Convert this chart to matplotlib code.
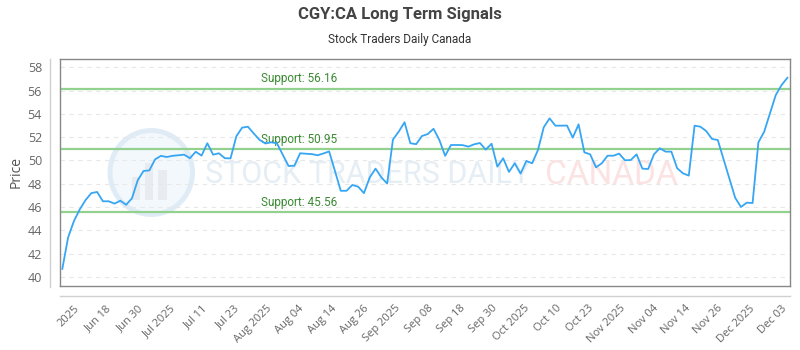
import matplotlib
matplotlib.use("Agg")
import matplotlib.pyplot as plt
import matplotlib.transforms as mtransforms
from matplotlib.patches import Ellipse, Rectangle
from matplotlib.lines import Line2D
import numpy as np

# ---- data ----
prices = [40.7, 43.4, 44.8, 45.8, 46.6, 47.2, 47.3, 46.5, 46.5, 46.3,
          46.55, 46.2, 46.75, 48.3, 49.1, 49.15, 50.1, 50.4, 50.3, 50.4,
          50.45, 50.5, 50.2, 50.75, 50.42, 51.48, 50.5, 50.62, 50.2, 50.18,
          52.08, 52.82, 52.9, 52.32, 51.77, 51.46, 51.56, 51.48, 50.5, 49.53,
          49.55, 50.62, 50.58, 50.55, 50.45, 50.6, 50.78, 49.1, 47.4, 47.4,
          47.9, 47.75, 47.2, 48.55, 49.3, 48.55, 48.02, 51.8, 52.48, 53.28,
          51.48, 51.4, 52.1, 52.27, 52.72, 51.76, 50.4, 51.33, 51.33, 51.32,
          51.19, 51.39, 51.5, 50.93, 51.44, 49.47, 50.19, 49.02, 49.76, 48.88,
          49.96, 49.76, 50.9, 52.85, 53.62, 52.99, 52.99, 53.0, 51.96, 53.1,
          50.7, 50.53, 49.41, 49.76, 50.41, 50.41, 50.59, 50.02, 50.04, 50.53,
          49.3, 49.27, 50.53, 51.05, 50.76, 50.76, 49.33, 48.9, 48.7, 52.99,
          52.9, 52.53, 51.85, 51.76, 50.1, 48.45, 46.8, 46.01, 46.38, 46.35,
          51.56, 52.47, 54.05, 55.62, 56.48, 57.1]

support_levels = [56.16, 50.95, 45.56]
support_labels = ["Support: 56.16", "Support: 50.95", "Support: 45.56"]

tick_labels = ["2025", "Jun 18", "Jun 30", "Jul 2025", "Jul 11", "Jul 23",
               "Aug 2025", "Aug 04", "Aug 14", "Aug 26", "Sep 2025", "Sep 08",
               "Sep 18", "Sep 30", "Oct 2025", "Oct 10", "Oct 23", "Nov 2025",
               "Nov 04", "Nov 14", "Nov 26", "Dec 2025", "Dec 03"]

y_ticks = [40, 42, 44, 46, 48, 50, 52, 54, 56, 58]

title = "CGY:CA Long Term Signals"
subtitle = "Stock Traders Daily Canada"

# ---- figure ----
W, H = 800, 350
fig = plt.figure(figsize=(8, 3.5), dpi=100)
L, R, T, B = 60, 790, 59, 286
ax = fig.add_axes([L / W, 1 - B / H, (R - L) / W, (B - T) / H])

x = np.arange(len(prices))
n = len(prices)

narrow_font = ['Roboto', 'DejaVu Sans']
tick_font = ['Open Sans', 'DejaVu Sans']

# watermark
ax.add_patch(Ellipse((0.125, 0.50), 0.113, 0.37, transform=ax.transAxes,
                     facecolor='#f2f8fc', edgecolor='#dfebf5', lw=3.5, zorder=0))
for bx, bh in [(0.098, 0.10), (0.116, 0.16), (0.134, 0.13)]:
    ax.add_patch(Rectangle((bx, 0.38), 0.012, bh, transform=ax.transAxes,
                           facecolor='#e8ecf0', edgecolor='none', zorder=0))
ax.text(0.199, 0.49, "STOCK TRADERS DAILY", transform=ax.transAxes,
        fontsize=22, color='#e6eef5', ha='left', va='center',
        family=narrow_font, zorder=0)
ax.text(0.664, 0.49, "CANADA", transform=ax.transAxes,
        fontsize=24, color='#fce3e3', ha='left', va='center',
        family=narrow_font, zorder=0)

# support lines
trans = mtransforms.blended_transform_factory(ax.transAxes, ax.transData)
for lvl, lab in zip(support_levels, support_labels):
    ax.axhline(lvl, color='#93d18f', lw=1.6, zorder=2)
    ax.annotate(lab, xy=(0.276, lvl), xycoords=trans, xytext=(0, 2.5),
                textcoords='offset points', ha='left', va='bottom',
                fontsize=8.5, color='#3a8a32', family=narrow_font, zorder=3)

# price line
ax.plot(x, prices, color='#36a6f4', lw=1.3, zorder=4)

ax.set_xlim(-0.4, n - 0.55)
ax.set_ylim(39.23, 58.71)

ax.set_yticks(y_ticks)
ax.set_yticklabels([str(v) for v in y_ticks], family=tick_font, fontsize=9,
                   color='#666666')
ax.yaxis.grid(True, linestyle=(0, (4, 4)), color='#e8e8e8', lw=0.8)
ax.set_axisbelow(True)

tick_pos = np.linspace(2.6, n - 1.4, len(tick_labels))
ax.set_xticks(tick_pos)
ax.set_xticklabels(tick_labels, rotation=45, ha='right', va='center',
                   rotation_mode='anchor', family=tick_font, fontsize=8,
                   color='#666666')
ax.tick_params(axis='x', length=0, pad=15)
ax.tick_params(axis='y', length=0, pad=13)

for s in ax.spines.values():
    s.set_color('#888888')
    s.set_linewidth(1.0)

ax.set_ylabel("Price", family=tick_font, fontsize=10, color='#555555',
              labelpad=3)

# outer axis lines
fig.add_artist(Line2D([50 / W, 50 / W], [1 - 287 / H, 1 - 59 / H],
                      color='#d0d0d0', lw=1, transform=fig.transFigure))
fig.add_artist(Line2D([60 / W, 790 / W], [1 - 296 / H, 1 - 296 / H],
                      color='#d0d0d0', lw=1, transform=fig.transFigure))

fig.text(0.5, 1 - 15 / H, title, ha='center', va='center', fontsize=12,
         fontweight='bold', color='#444444', family=narrow_font)
fig.text(0.5, 1 - 40 / H, subtitle, ha='center', va='center', fontsize=8.5,
         color='#333333', family=narrow_font)

fig.savefig("out.png", dpi=100)
